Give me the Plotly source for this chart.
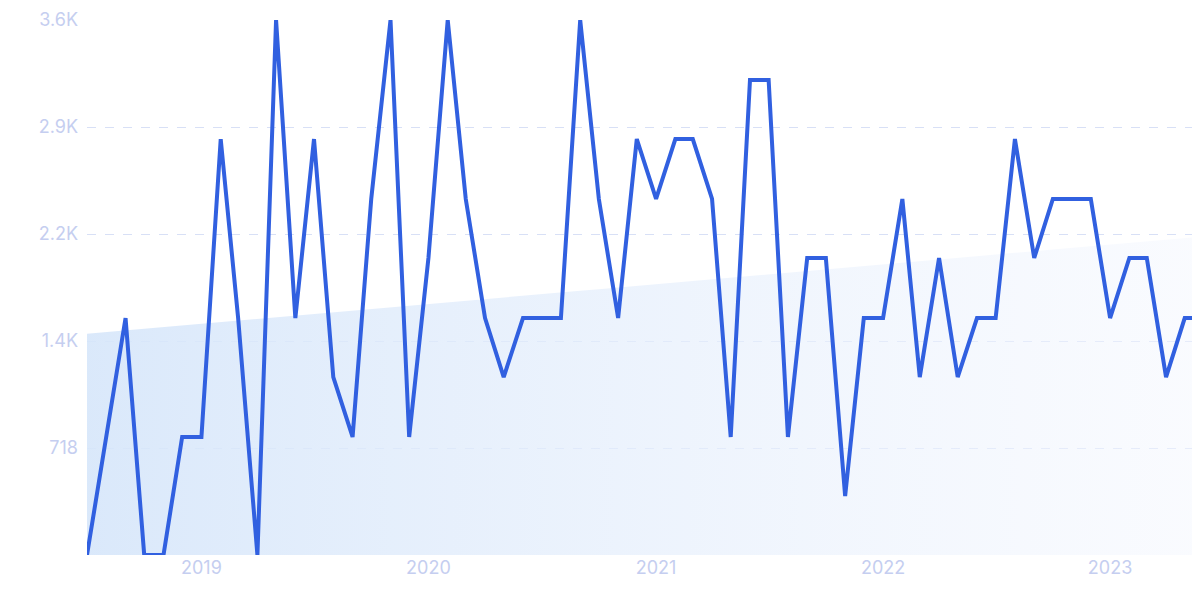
import plotly.graph_objects as go
import numpy as np
import pandas as pd

dates = pd.date_range("2018-07-01", periods=60, freq="MS")
values = [0, 792, 1590, 0, 0, 792, 792, 2791, 1590, 0,
          3590, 1590, 2791, 1194, 792, 2389, 3590, 792, 1993, 3590,
          2389, 1590, 1194, 1590, 1590, 1590, 3590, 2389, 1590, 2791,
          2389, 2791, 2791, 2389, 792, 3187, 3187, 792, 1993, 1993,
          396, 1590, 1590, 2389, 1194, 1993, 1194, 1590, 1590, 2791,
          1993, 2389, 2389, 2389, 1590, 1993, 1993, 1194, 1590, 1590]
tick_vals = [718, 1436, 2154, 2872, 3590]
tick_text = ["718", "1.4K", "2.2K", "2.9K", "3.6K"]

# linear trend
idx = np.arange(len(values))
coef = np.polyfit(idx, values, 1)
trend = np.polyval(coef, idx)

fig = go.Figure()
fig.add_trace(go.Scatter(
    x=dates, y=trend, mode="lines", line=dict(width=0),
    fill="tozeroy",
    fillgradient=dict(type="horizontal",
                      colorscale=[[0, "rgba(214,230,250,0.9)"], [1, "rgba(244,247,254,0.5)"]]),
    hoverinfo="skip", showlegend=False))
fig.add_trace(go.Scatter(
    x=dates, y=values, mode="lines",
    line=dict(color="#3160e0", width=4), showlegend=False))

fig.update_layout(
    width=1200, height=600,
    margin=dict(l=79, r=4, t=12, b=53),
    plot_bgcolor="white", paper_bgcolor="white",
    font=dict(family="Inter, Noto Sans, sans-serif", size=18, color="#c5cef0"),
    xaxis=dict(range=[dates[0], dates[-1]], showgrid=False, zeroline=False, automargin=False,
               tickvals=pd.to_datetime(["2019-01-01", "2020-01-01", "2021-01-01", "2022-01-01", "2023-01-01"]),
               ticktext=["2019", "2020", "2021", "2022", "2023"], ticks=""),
    yaxis=dict(range=[0, 3590], tickvals=tick_vals, ticktext=tick_text, automargin=False,
               showgrid=True, gridcolor="#d8e0f6", griddash="dash", gridwidth=1,
               zeroline=False, ticks="", ticklabelstandoff=8),
)
fig.write_html("out.html")
